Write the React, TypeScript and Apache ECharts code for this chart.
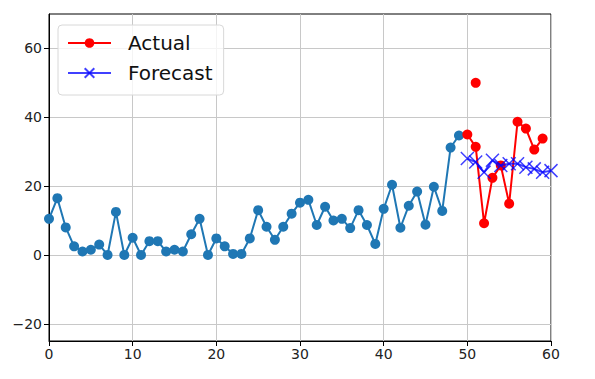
import React, { useEffect, useRef } from "react";
import * as echarts from "echarts";

const historyX = Array.from({ length: 50 }, (_, i) => i);
const historyValues = [
  10.5, 16.5, 8, 2.5, 1, 1.5, 3, 0, 12.5, 0,
  5, 0, 4, 4, 1, 1.5, 1, 6, 10.5, 0,
  4.8, 2.5, 0.3, 0.3, 4.8, 13, 8.2, 4.4, 8.2, 12,
  15.2, 16, 8.7, 14, 10, 10.5, 7.8, 13, 8.7, 3.2,
  13.4, 20.4, 7.9, 14.3, 18.4, 8.8, 19.8, 12.8, 31.2, 34.7,
];
const actualX = [50, 51, 52, 53, 54, 55, 56, 57, 58, 59];
const actualValues = [35, 31.4, 9.2, 22.4, 26, 14.9, 38.7, 36.7, 30.6, 33.8];
const outlierX = [51];
const outlierValues = [50];
const forecastX = [50, 51, 52, 53, 54, 55, 56, 57, 58, 59, 60];
const forecastValues = [28, 27, 24, 27.5, 26, 26.5, 26.5, 25.5, 25, 24, 24.5];
const yTicks = [-20, 0, 20, 40, 60];

const pair = (xs: number[], ys: number[]) => xs.map((x, i) => [x, ys[i]]);

const CROSS = "path://M0,0L10,10M10,0L0,10";

export default function App() {
  const ref = useRef<HTMLDivElement>(null);
  useEffect(() => {
    if (!ref.current) return;
    const chart = echarts.init(ref.current, null, { renderer: "svg" });
    const font = "DejaVu Sans";
    chart.setOption({
      animation: false,
      backgroundColor: "#fff",
      textStyle: { fontFamily: font },
      grid: {
        left: 49,
        right: 44,
        top: 14,
        bottom: 38,
        show: true,
        borderColor: "#000",
        borderWidth: 1,
        backgroundColor: "#fff",
      },
      legend: {
        data: ["Actual", "Forecast"],
        orient: "vertical",
        left: 58,
        top: 25,
        padding: [8, 11, 12, 9],
        itemGap: 10,
        itemWidth: 43,
        itemHeight: 12,
        backgroundColor: "rgba(255,255,255,0.8)",
        borderColor: "#d8d8d8",
        borderWidth: 1,
        borderRadius: 4,
        textStyle: { fontFamily: font, fontSize: 20, color: "#111", padding: [0, 0, 0, 12] },
      },
      xAxis: {
        type: "value",
        min: 0,
        max: 60,
        interval: 10,
        axisLine: { show: true, onZero: false, lineStyle: { color: "#000", width: 1 } },
        axisTick: { show: true, inside: false, length: 5, lineStyle: { color: "#000" } },
        axisLabel: { fontFamily: font, fontSize: 14, color: "#222", margin: 6 },
        splitLine: { show: true, lineStyle: { color: "#c8c8c8", width: 1 } },
      },
      yAxis: {
        type: "value",
        min: -25,
        max: 70,
        axisLine: { show: true, onZero: false, lineStyle: { color: "#000", width: 1 } },
        axisTick: { show: true, inside: false, length: 5, lineStyle: { color: "#000" }, customValues: yTicks },
        axisLabel: {
          fontFamily: font,
          fontSize: 14,
          color: "#222",
          margin: 7,
          customValues: yTicks,
          formatter: (v: number) => (v < 0 ? "\u2212" + Math.abs(v) : String(v)),
        },
        splitLine: { show: true, lineStyle: { color: "#c8c8c8", width: 1 } },
      },
      series: [
        {
          name: "History",
          type: "line",
          data: pair(historyX, historyValues),
          symbol: "circle",
          symbolSize: 10,
          lineStyle: { color: "#1f77b4", width: 2 },
          itemStyle: { color: "#1f77b4" },
          z: 2,
        },
        {
          name: "Actual",
          type: "line",
          data: pair(actualX, actualValues),
          symbol: "circle",
          symbolSize: 10,
          lineStyle: { color: "#ff0000", width: 2 },
          itemStyle: { color: "#ff0000" },
          z: 3,
        },
        {
          name: "Outlier",
          type: "scatter",
          data: pair(outlierX, outlierValues),
          symbol: "circle",
          symbolSize: 10,
          itemStyle: { color: "#ff0000", opacity: 1 },
          z: 3,
        },
        {
          name: "Forecast",
          type: "line",
          data: pair(forecastX, forecastValues),
          symbol: CROSS,
          symbolSize: 13,
          lineStyle: { color: "rgba(0,0,255,0.75)", width: 2 },
          itemStyle: { color: "rgba(0,0,255,0.75)", borderColor: "rgba(0,0,255,0.75)", borderWidth: 1.5 },
          z: 4,
        },
      ],
    });
    return () => chart.dispose();
  }, []);
  return (
    <div
      ref={ref}
      style={{ position: "absolute", left: 0, top: 0, width: 595, height: 379 }}
    />
  );
}
